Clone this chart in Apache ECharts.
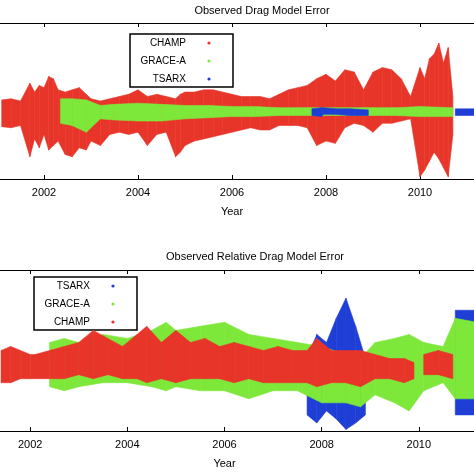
<!DOCTYPE html>
<html>
<head>
<meta charset="utf-8">
<script src="https://cdn.jsdelivr.net/npm/echarts@6/dist/echarts.min.js"></script>
<style>html,body{margin:0;padding:0;background:#fff}#main{width:474px;height:474px}</style>
</head>
<body>
<div id="main"></div>
<script>
// top panel: absolute drag model error (envelopes of the point clouds)
var champT = [2001.1,2001.3,2001.5,2001.7,2001.8,2001.9,2002.0,2002.1,2002.2,2002.3,2002.45,2002.6,2002.75,2002.9,2003.0,2003.2,2003.4,2003.6,2003.8,2004.0,2004.2,2004.4,2004.6,2004.8,2004.9,2005.0,2005.2,2005.4,2005.6,2005.8,2006.0,2006.2,2006.4,2006.6,2006.8,2007.0,2007.2,2007.4,2007.6,2007.8,2008.0,2008.2,2008.4,2008.6,2008.8,2009.0,2009.2,2009.4,2009.6,2009.8,2010.0,2010.1,2010.2,2010.3,2010.4,2010.5,2010.6,2010.7];
var champHi = [0.55,0.6,0.5,1.3,0.9,1.2,1.1,1.6,1.5,1.0,0.9,1.0,1.1,0.8,0.6,0.5,0.6,0.7,0.8,1.0,0.7,0.8,0.7,0.6,0.8,0.9,0.9,1.0,1.0,0.9,0.8,0.7,0.7,0.7,0.6,0.8,1.0,1.1,1.2,1.5,1.7,1.4,1.9,1.8,1.0,1.8,2.0,1.9,1.5,0.7,2.0,1.5,2.4,2.6,3.1,2.2,2.9,0.7];
var champLo = [-0.65,-0.7,-0.6,-2.0,-1.2,-1.6,-1.0,-1.7,-1.5,-1.3,-1.9,-2.0,-1.6,-1.7,-1.3,-1.5,-1.0,-0.9,-1.0,-0.9,-1.5,-1.0,-0.9,-2.0,-1.8,-1.5,-1.3,-1.2,-1.1,-1.0,-0.9,-0.8,-0.7,-0.8,-0.8,-0.6,-0.6,-0.6,-0.7,-1.5,-1.3,-1.4,-0.7,-0.5,-0.6,-0.9,-0.5,-0.5,-0.4,-0.3,-2.9,-2.6,-2.2,-1.8,-2.1,-2.5,-2.9,-1.0];
var graceT = [2002.35,2002.6,2002.9,2003.2,2003.5,2004.0,2004.5,2005.0,2005.5,2006.0,2006.5,2007.0,2007.5,2008.0,2008.5,2009.0,2009.5,2010.0,2010.7];
var graceHi = [0.6,0.6,0.55,0.3,0.35,0.4,0.35,0.3,0.3,0.25,0.25,0.2,0.2,0.2,0.2,0.2,0.2,0.25,0.2];
var graceLo = [-0.5,-0.6,-0.9,-0.3,-0.35,-0.4,-0.4,-0.3,-0.25,-0.2,-0.2,-0.15,-0.15,-0.15,-0.15,-0.15,-0.15,-0.2,-0.2];
var tsarxT = [2007.7,2007.9,2007.95,2008.2,2008.5,2008.9,null,2010.75,2011.2];
var tsarxHi = [0.15,0.2,0.2,0.15,0.15,0.1,null,0.15,0.15];
var tsarxLo = [-0.15,-0.2,-0.1,-0.1,-0.15,-0.15,null,-0.15,-0.15];

// bottom panel: relative drag model error
var rChampT = [2001.4,2001.6,2001.8,2002.0,2002.1,2002.4,2002.7,2003.0,2003.3,2003.6,2003.9,2004.2,2004.4,2004.7,2005.0,2005.3,2005.6,2005.9,2006.2,2006.5,2006.8,2007.1,2007.4,2007.7,2007.9,2008.2,2008.5,2008.8,2009.1,2009.4,2009.7,2009.9,null,2010.1,2010.4,2010.7];
var rChampHi = [0.2,0.25,0.2,0.15,0.15,0.2,0.25,0.3,0.45,0.35,0.25,0.4,0.5,0.3,0.45,0.3,0.35,0.25,0.3,0.25,0.2,0.25,0.2,0.2,0.35,0.2,0.2,0.2,0.15,0.1,0.1,0.05,null,0.15,0.2,0.15];
var rChampLo = [-0.2,-0.2,-0.15,-0.15,-0.15,-0.15,-0.15,-0.1,-0.15,-0.1,-0.15,-0.15,-0.2,-0.15,-0.2,-0.15,-0.15,-0.15,-0.2,-0.15,-0.2,-0.2,-0.2,-0.2,-0.25,-0.2,-0.2,-0.25,-0.15,-0.15,-0.2,-0.15,null,-0.1,-0.1,-0.15];
var rGraceT = [2002.4,2002.7,2003.0,2003.5,2004.0,2004.5,2004.8,2005.0,2005.5,2006.0,2006.5,2007.0,2007.5,2008.0,2008.5,2008.8,2009.1,2009.5,2009.8,2010.1,2010.5,2010.75,2011.2];
var rGraceHi = [0.3,0.35,0.3,0.4,0.35,0.45,0.55,0.45,0.5,0.55,0.4,0.35,0.3,0.25,0.15,0.1,0.3,0.35,0.4,0.3,0.25,0.6,0.55];
var rGraceLo = [-0.25,-0.3,-0.25,-0.2,-0.2,-0.25,-0.3,-0.25,-0.3,-0.3,-0.4,-0.3,-0.3,-0.45,-0.45,-0.5,-0.35,-0.45,-0.55,-0.3,-0.2,-0.4,-0.4];
var rTsarxT = [2007.7,2007.9,2008.1,2008.3,2008.5,2008.7,2008.9,null,2010.75,2011.2];
var rTsarxHi = [0.1,0.4,0.3,0.6,0.85,0.5,0.1,null,0.7,0.7];
var rTsarxLo = [-0.6,-0.7,-0.55,-0.65,-0.78,-0.7,-0.6,null,-0.6,-0.6];

var RED = '#e8352a', GREEN = '#7ee83a', BLUE = '#1f3ed6';

function segs(t, lo, hi) {
  var out = [];
  for (var i = 0; i < t.length - 1; i++) {
    if (t[i] == null || t[i + 1] == null) continue;
    out.push([t[i], lo[i], hi[i], t[i + 1], lo[i + 1], hi[i + 1]]);
  }
  return out;
}

function band(name, xi, yi, color, t, lo, hi) {
  return {
    name: name, type: 'custom', xAxisIndex: xi, yAxisIndex: yi, clip: true,
    encode: { x: [0, 3], y: [1, 2, 4, 5] },
    data: segs(t, lo, hi),
    renderItem: function (params, api) {
      var a = api.coord([api.value(0), api.value(2)]);
      var b = api.coord([api.value(3), api.value(5)]);
      var c = api.coord([api.value(3), api.value(4)]);
      var d = api.coord([api.value(0), api.value(1)]);
      return {
        type: 'polygon',
        shape: { points: [a, b, c, d] },
        style: { fill: color, stroke: color, lineWidth: 0.6 }
      };
    }
  };
}

var F = 'Liberation Sans';

function xAx(gi, top) {
  return {
    type: 'value', gridIndex: gi, position: top ? 'top' : 'bottom',
    min: 2000, max: 2012, interval: 2,
    name: top ? '' : 'Year', nameLocation: 'middle', nameGap: 27,
    nameTextStyle: { color: '#000', fontSize: 11, fontFamily: F },
    axisLine: { onZero: false, lineStyle: { color: '#000', width: 1.2 } },
    axisTick: { inside: true, length: 4, lineStyle: { color: '#000' } },
    axisLabel: { show: !top, color: '#000', fontSize: 11, fontFamily: F, margin: 8,
      formatter: function (v) { return String(v); } },
    splitLine: { show: false }
  };
}

function yAx(gi, min, max, step) {
  return {
    type: 'value', gridIndex: gi, min: min, max: max, interval: step,
    axisLine: { show: true, onZero: false, lineStyle: { color: '#000' } },
    axisTick: { inside: true, length: 4, lineStyle: { color: '#000' } },
    axisLabel: { show: false }, splitLine: { show: false }
  };
}

function legendBox(x, y, names, colors) {
  var kids = [{ type: 'rect', shape: { x: x, y: y, width: 103, height: 53 },
    style: { fill: '#fff', stroke: '#000', lineWidth: 1.5 } }];
  names.forEach(function (n, i) {
    kids.push({ type: 'text', style: { x: x + 56, y: y + 9 + i * 18, text: n, fill: '#000',
      font: '10px ' + F, textAlign: 'right', textVerticalAlign: 'middle' } });
    kids.push({ type: 'circle', shape: { cx: x + 79, cy: y + 9 + i * 18, r: 1.6 },
      style: { fill: colors[i] } });
  });
  return { type: 'group', children: kids, z: 100 };
}

var chart = echarts.init(document.getElementById('main'));
chart.setOption({
  animation: false,
  title: [
    { text: 'Observed Drag Model Error', left: 257, top: 0, textAlign: 'center',
      textStyle: { fontSize: 11, fontWeight: 'normal', color: '#000', fontFamily: F } },
    { text: 'Observed Relative Drag Model Error', left: 250, top: 246, textAlign: 'center',
      textStyle: { fontSize: 11, fontWeight: 'normal', color: '#000', fontFamily: F } }
  ],
  grid: [
    { left: -50, right: -40, top: 23, bottom: 295, outerBoundsMode: 'none', containLabel: false },
    { left: -67, right: -42, top: 270, bottom: 43, outerBoundsMode: 'none', containLabel: false }
  ],
  xAxis: [xAx(0, false), xAx(0, true), xAx(1, false), xAx(1, true)],
  yAxis: [yAx(0, -3, 4, 1), yAx(1, -0.8, 1.2, 0.4)],
  series: [
    band('CHAMP', 0, 0, RED, champT, champLo, champHi),
    band('GRACE-A', 0, 0, GREEN, graceT, graceLo, graceHi),
    band('TSARX', 0, 0, BLUE, tsarxT, tsarxLo, tsarxHi),
    band('TSARX', 2, 1, BLUE, rTsarxT, rTsarxLo, rTsarxHi),
    band('GRACE-A', 2, 1, GREEN, rGraceT, rGraceLo, rGraceHi),
    band('CHAMP', 2, 1, RED, rChampT, rChampLo, rChampHi)
  ],
  graphic: [
    legendBox(130, 34, ['CHAMP', 'GRACE-A', 'TSARX'], [RED, GREEN, BLUE]),
    legendBox(34, 277, ['TSARX', 'GRACE-A', 'CHAMP'], [BLUE, GREEN, RED])
  ]
});
</script>
</body>
</html>
